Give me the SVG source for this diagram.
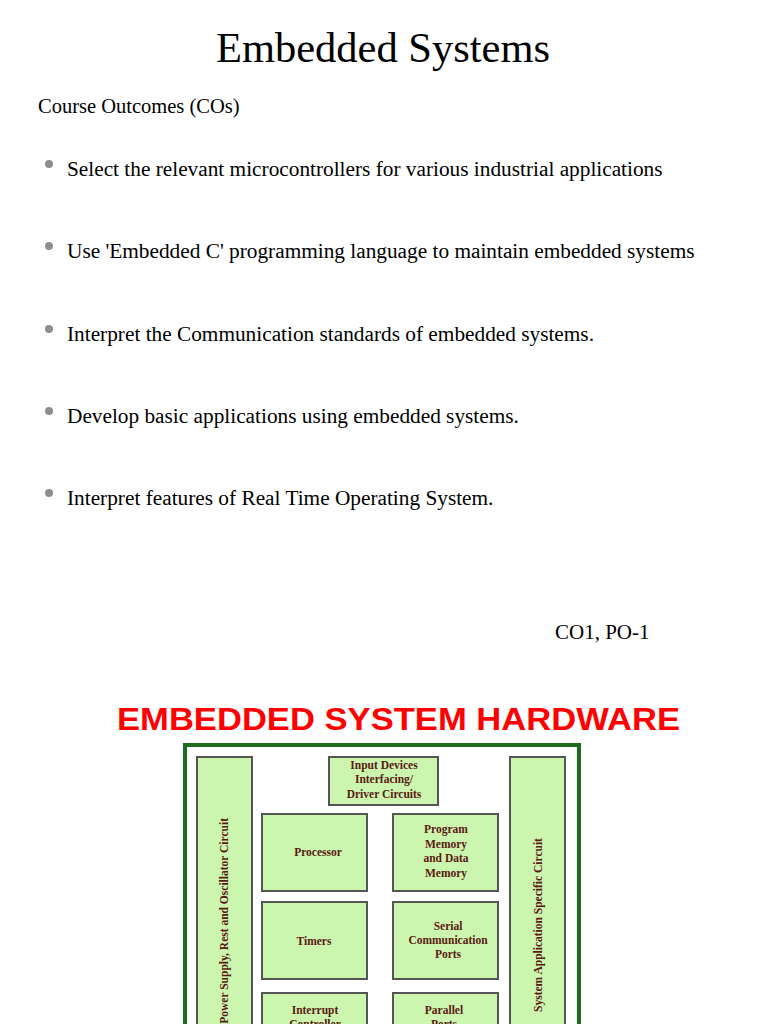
<svg xmlns="http://www.w3.org/2000/svg" width="768" height="1024" viewBox="0 0 768 1024">
<style>
.t{font-family:"Liberation Serif",serif;fill:#000}
.b{fill:#8e8e8e}
.box{fill:#ccf5b0;stroke:#555;stroke-width:2}
.bl{font-family:"Liberation Serif",serif;font-weight:bold;font-size:11.5px;fill:#5a1a10;text-anchor:middle}
</style>
<rect width="768" height="1024" fill="#fff"/>
<text class="t" x="383" y="62" font-size="42.5" text-anchor="middle">Embedded Systems</text>
<text class="t" x="38" y="113" font-size="20.5">Course Outcomes (COs)</text>
<g font-size="21.3">
<circle class="b" cx="49" cy="164" r="4"/><text class="t" x="67" y="176">Select the relevant microcontrollers for various industrial applications</text>
<circle class="b" cx="49" cy="246" r="4"/><text class="t" x="67" y="258">Use 'Embedded C' programming language to maintain embedded systems</text>
<circle class="b" cx="49" cy="329" r="4"/><text class="t" x="67" y="341">Interpret the Communication standards of embedded systems.</text>
<circle class="b" cx="49" cy="411" r="4"/><text class="t" x="67" y="423">Develop basic applications using embedded systems.</text>
<circle class="b" cx="49" cy="493" r="4"/><text class="t" x="67" y="505">Interpret features of Real Time Operating System.</text>
</g>
<text class="t" x="555" y="639" font-size="21">CO1, PO-1</text>
<text x="117" y="730" font-family="Liberation Sans,sans-serif" font-weight="bold" font-size="31" fill="#f00" textLength="563" lengthAdjust="spacingAndGlyphs">EMBEDDED SYSTEM HARDWARE</text>
<rect x="185" y="745" width="394" height="300" fill="#fff" stroke="#1d6b1d" stroke-width="4"/>
<g id="power"><rect class="box" x="197" y="757" width="55" height="300"/>
<text class="bl" transform="translate(228,818) rotate(-90)" style="text-anchor:end">Power Supply, Rest and Oscillator Circuit</text></g>
<g id="app"><rect class="box" x="510" y="757" width="55" height="300"/>
<text class="bl" transform="translate(542,925) rotate(-90)">System Application Specific Circuit</text></g>
<g id="input"><rect class="box" x="329" y="757" width="109" height="48"/>
<text class="bl" x="384" y="769">Input Devices</text><text class="bl" x="384" y="783">Interfacing/</text><text class="bl" x="384" y="798">Driver Circuits</text></g>
<g id="proc"><rect class="box" x="262" y="814" width="105" height="77"/><text class="bl" x="318" y="856">Processor</text></g>
<g id="mem"><rect class="box" x="393" y="814" width="105" height="77"/>
<text class="bl" x="446" y="833">Program</text><text class="bl" x="446" y="848">Memory</text><text class="bl" x="446" y="862">and Data</text><text class="bl" x="446" y="877">Memory</text></g>
<g id="timers"><rect class="box" x="262" y="902" width="105" height="77"/><text class="bl" x="314" y="945">Timers</text></g>
<g id="serial"><rect class="box" x="393" y="902" width="105" height="77"/>
<text class="bl" x="448" y="930">Serial</text><text class="bl" x="448" y="944">Communication</text><text class="bl" x="448" y="958">Ports</text></g>
<g id="intr"><rect class="box" x="262" y="993" width="105" height="77"/><text class="bl" x="315" y="1014">Interrupt</text><text class="bl" x="315" y="1028">Controller</text></g>
<g id="par"><rect class="box" x="393" y="993" width="105" height="77"/><text class="bl" x="444" y="1014">Parallel</text><text class="bl" x="444" y="1028">Ports</text></g>
<g id="connectors"/>
</svg>
